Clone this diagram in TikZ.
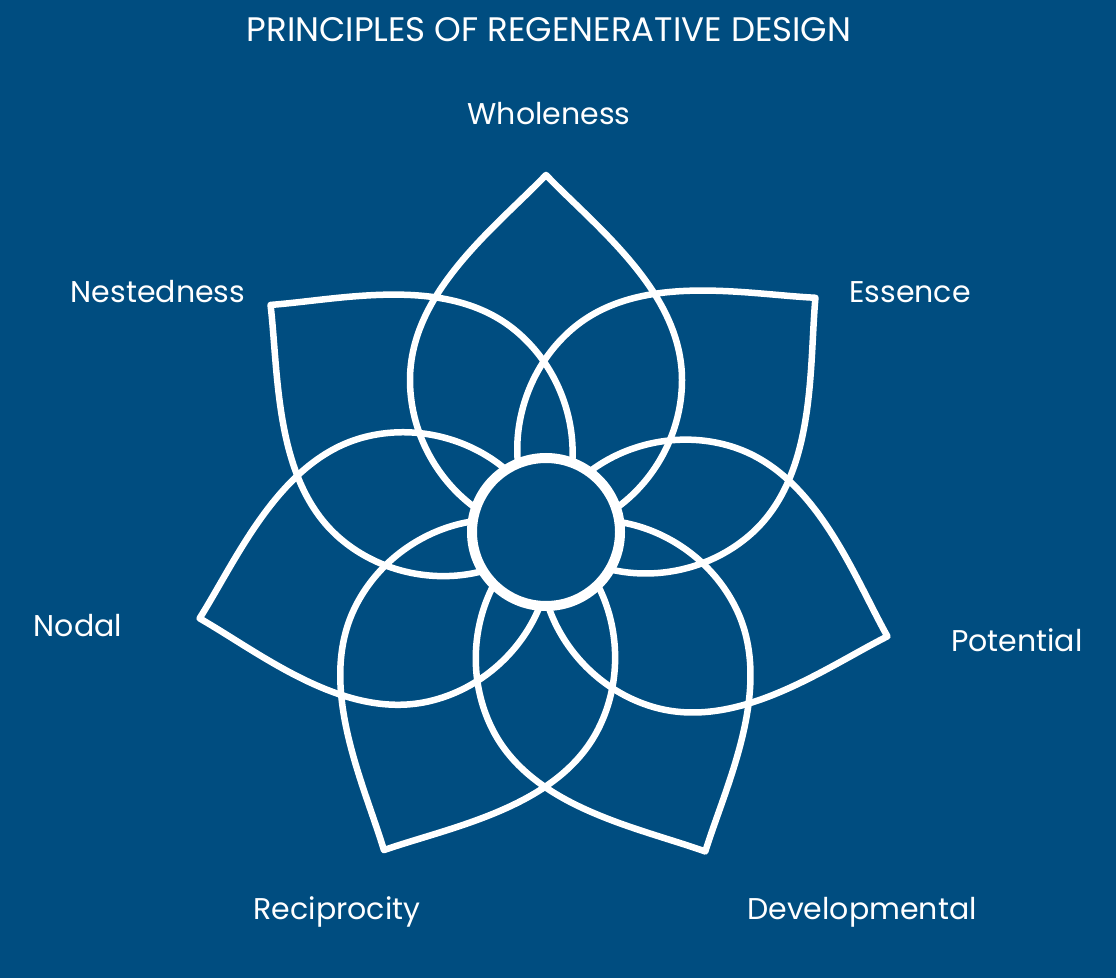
\documentclass[tikz,border=0pt]{standalone}
\usepackage{fontspec}
\setmainfont{Poppins}
\definecolor{bg}{RGB}{0,77,128}
\begin{document}
\begin{tikzpicture}[x=1pt,y=1pt,
  petal/.style={draw=white,line width=6.5pt,line join=round},
  lab/.style={text=white,font=\fontsize{30}{34}\selectfont,anchor=center}]
\fill[bg] (0,0) rectangle (1116,978);
\useasboundingbox (0,0) rectangle (1116,978);
\coordinate (c) at (546,446);
\foreach \a in {90,41,-17,-63.5,-117,-166,140.5}{
  \begin{scope}[shift={(c)},rotate=\a-90]
    \draw[petal] (0,357) .. controls (-50,305) and (-136,240) .. (-136,152)
      .. controls (-136,70) and (-70,0) .. (0,0)
      .. controls (70,0) and (136,70) .. (136,152)
      .. controls (136,240) and (50,305) .. (0,357) -- cycle;
  \end{scope}
}
\node[circle,draw=white,fill=bg,line width=10pt,minimum size=148pt] (hub) at (c) {};
\node[lab,font=\fontsize{34}{38}\selectfont] (title) at (549,948) {PRINCIPLES OF REGENERATIVE DESIGN};
\node[lab] (w) at (549,864) {Wholeness};
\node[lab] (e) at (910,686) {Essence};
\node[lab] (p) at (1017,338) {Potential};
\node[lab] (d) at (862,66) {Developmental};
\node[lab] (r) at (337,66) {Reciprocity};
\node[lab] (n) at (78,352) {Nodal};
\node[lab] (ne) at (158,686) {Nestedness};
\end{tikzpicture}
\end{document}
